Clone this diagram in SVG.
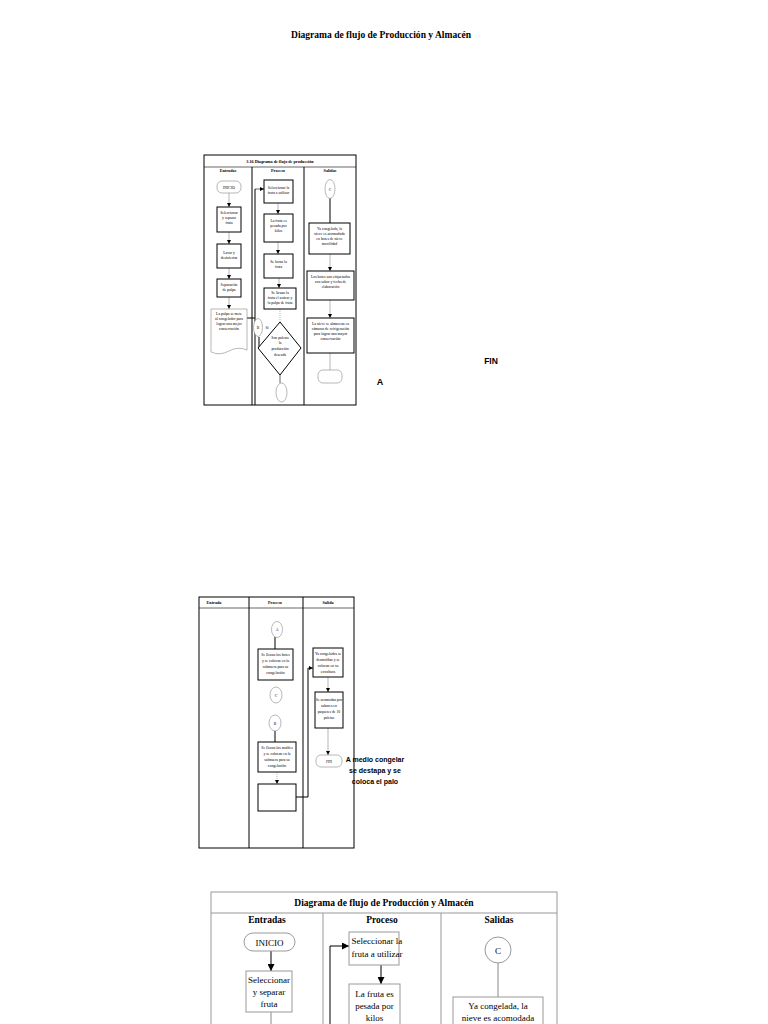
<svg xmlns="http://www.w3.org/2000/svg" width="768" height="1024" viewBox="0 0 768 1024">
<style>
text{font-family:"Liberation Serif","Times New Roman",serif;fill:#000}
.t1{font-size:3.8px;text-anchor:middle}
.h1{font-size:4.2px;font-weight:bold;text-anchor:middle}
.b1{fill:#fff;stroke:#000;stroke-width:1}
.g1{fill:#fff;stroke:#888;stroke-width:0.6}
.ln{fill:none;stroke:#000;stroke-width:0.6}
.lg{fill:none;stroke:#888;stroke-width:0.6}
.fr{fill:none;stroke:#000;stroke-width:1}
.t3{font-size:9px}
.h3{font-size:9.5px;font-weight:bold;text-anchor:middle}
.g3{fill:#fff;stroke:#999;stroke-width:1}
text.sans{font-family:"Liberation Sans",Arial,sans-serif;font-weight:bold}
</style>
<defs>
<marker id="ar" markerWidth="4" markerHeight="4" refX="4" refY="2" orient="auto" markerUnits="userSpaceOnUse"><path d="M0,0 L4,2 L0,4 Z" fill="#000"/></marker>
<marker id="ar3" markerWidth="7" markerHeight="7" refX="7" refY="3.5" orient="auto" markerUnits="userSpaceOnUse"><path d="M0,0 L7,3.5 L0,7 Z" fill="#000"/></marker>
</defs>
<rect width="768" height="1024" fill="#fff"/>
<text x="381" y="38" font-size="10.5" font-weight="bold" text-anchor="middle" textLength="180" lengthAdjust="spacingAndGlyphs">Diagrama de flujo de Producción y Almacén</text>

<!-- DIAGRAM 1 -->
<g id="frame1">
<rect x="204" y="155" width="152" height="250" class="fr"/>
<line x1="204" y1="167" x2="356" y2="167" class="ln"/>
<line x1="252" y1="167" x2="252" y2="405" class="fr"/>
<line x1="304" y1="167" x2="304" y2="405" class="fr"/>
<text x="280" y="163" class="h1">3.16 Diagrama de flujo de producción</text>
<text x="228" y="172" class="h1">Entradas</text>
<text x="278" y="172" class="h1">Proceso</text>
<text x="330" y="172" class="h1">Salidas</text>
</g>
<g id="connectors1">
<line x1="229" y1="193" x2="229" y2="207" class="lg" marker-end="url(#ar)"/>
<line x1="229" y1="232" x2="229" y2="244" class="lg" marker-end="url(#ar)"/>
<line x1="229" y1="268" x2="229" y2="279" class="lg" marker-end="url(#ar)"/>
<line x1="229" y1="297" x2="229" y2="309" class="lg" marker-end="url(#ar)"/>
<polyline points="247,318 255,318" class="fr"/>
<line x1="255" y1="405" x2="255" y2="189" class="fr"/>
<line x1="255" y1="189" x2="264" y2="189" class="ln" marker-end="url(#ar)"/>
<line x1="278" y1="203" x2="278" y2="214" class="lg" marker-end="url(#ar)"/>
<line x1="278" y1="242" x2="278" y2="254" class="lg" marker-end="url(#ar)"/>
<line x1="279" y1="278" x2="279" y2="288" class="lg" marker-end="url(#ar)"/>
<line x1="280" y1="309" x2="280" y2="322" class="lg" stroke-dasharray="1,1"/>
<line x1="259" y1="337" x2="259" y2="348" class="fr"/>
<line x1="280" y1="375" x2="280" y2="383" class="ln"/>
<line x1="330" y1="198" x2="330" y2="223" class="fr"/>
<line x1="330" y1="254" x2="330" y2="271" class="lg" marker-end="url(#ar)"/>
<line x1="330" y1="300" x2="330" y2="318" class="lg" marker-end="url(#ar)"/>
<line x1="330" y1="353" x2="330" y2="370" class="lg"/>
</g>
<g id="inicio1"><rect x="217" y="181" width="24" height="12" rx="5" class="g1"/><text x="229" y="188.5" class="t1">INICIO</text></g>
<g id="sel1"><rect x="217" y="207" width="24" height="25" class="b1"/><text x="229" y="214" class="t1">Seleccionar</text><text x="229" y="219" class="t1">y separar</text><text x="229" y="224" class="t1">fruta</text></g>
<g id="lavar1"><rect x="217" y="244" width="24" height="24" class="b1"/><text x="229" y="254" class="t1">Lavar y</text><text x="229" y="259" class="t1">desinfectar</text></g>
<g id="sep1"><rect x="217" y="279" width="24" height="18" class="b1"/><text x="229" y="286" class="t1">Separación</text><text x="229" y="291" class="t1">de pulpa</text></g>
<g id="doc1"><path d="M211,309 H247 V350 Q238,346 229,351 Q220,356 211,352 Z" class="g1"/><text x="229" y="315" class="t1">La pulpa se mete</text><text x="229" y="320" class="t1">al congelador para</text><text x="229" y="325" class="t1">lograr una mejor</text><text x="229" y="330" class="t1">conservación</text></g>
<g id="selfruta1"><rect x="264" y="180" width="29" height="23" class="b1"/><text x="278.5" y="189" class="t1">Seleccionar la</text><text x="278.5" y="194" class="t1">fruta a utilizar</text></g>
<g id="pesada1"><rect x="264" y="214" width="29" height="28" class="b1"/><text x="278.5" y="222" class="t1">La fruta es</text><text x="278.5" y="227" class="t1">pesada por</text><text x="278.5" y="232" class="t1">kilos</text></g>
<g id="lava1"><rect x="264" y="254" width="29" height="24" class="b1"/><text x="278.5" y="263" class="t1">Se lavan la</text><text x="278.5" y="268" class="t1">fruta</text></g>
<g id="licuan1"><rect x="264" y="288" width="32" height="21" class="b1"/><text x="280" y="294" class="t1">Se licuan la</text><text x="280" y="299" class="t1">fruta  el azúcar y</text><text x="280" y="304" class="t1">la pulpa de fruta</text></g>
<g id="b1"><ellipse cx="258" cy="327.5" rx="4.5" ry="9" class="g1"/><text x="258" y="329" class="t1">B</text></g>
<text x="267" y="329" class="t1">Si</text>
<g id="dec1"><polygon points="280,322 301,348 280,375 258,348" class="b1"/><text x="280" y="339" class="t1">Son paletas</text><text x="280" y="344" class="t1">la</text><text x="280" y="350" class="t1">producción</text><text x="280" y="356" class="t1">deseada</text></g>
<g id="end1"><ellipse cx="281.5" cy="392.5" rx="5.5" ry="9.5" class="g1"/></g>
<g id="c1"><ellipse cx="330" cy="189" rx="5" ry="9.5" class="g1"/><text x="330" y="190.5" class="t1">C</text></g>
<g id="ya1"><rect x="309" y="223" width="41" height="31" class="b1"/><text x="329.5" y="230" class="t1">Ya congelada, la</text><text x="329.5" y="235" class="t1">nieve es acomodada</text><text x="329.5" y="240" class="t1">en botes de nieve</text><text x="329.5" y="245" class="t1">movilidad</text></g>
<g id="etiq1"><rect x="307" y="271" width="47" height="29" class="b1"/><text x="330.5" y="278" class="t1">Los botes son etiquetados</text><text x="330.5" y="283" class="t1">con sabor y fecha de</text><text x="330.5" y="288" class="t1">elaboración</text></g>
<g id="alm1"><rect x="307" y="318" width="47" height="35" class="b1"/><text x="330.5" y="325" class="t1">La nieve se almacena en</text><text x="330.5" y="330" class="t1">cámaras de refrigeración</text><text x="330.5" y="335" class="t1">para lograr una mayor</text><text x="330.5" y="340" class="t1">conservación</text></g>
<g id="term1"><rect x="318" y="370" width="24" height="13" rx="5" class="g1"/></g>
<text x="491" y="364" class="sans" font-size="8.5" text-anchor="middle">FIN</text>
<text x="380" y="385" class="sans" font-size="9" text-anchor="middle">A</text>

<!-- DIAGRAM 2 -->
<g id="frame2">
<rect x="199" y="597" width="155" height="251" class="fr"/>
<line x1="199" y1="608" x2="354" y2="608" class="ln"/>
<line x1="249" y1="597" x2="249" y2="848" class="fr"/>
<line x1="303" y1="597" x2="303" y2="848" class="fr"/>
<text x="214" y="604" class="h1">Entrada</text>
<text x="275" y="604" class="h1">Proceso</text>
<text x="328" y="604" class="h1">Salida</text>
</g>
<g id="connectors2">
<line x1="275" y1="637" x2="275" y2="649" class="fr"/>
<line x1="275" y1="731" x2="275" y2="742" class="fr"/>
<line x1="277" y1="772" x2="277" y2="784" class="lg" stroke-dasharray="1,1" marker-end="url(#ar)"/>
<polyline points="296,797 308,797 308,668" class="fr"/>
<line x1="308" y1="668" x2="313" y2="668" class="ln" marker-end="url(#ar)"/>
<line x1="328" y1="677" x2="328" y2="692" class="lg" marker-end="url(#ar)"/>
<line x1="328" y1="728" x2="328" y2="755" class="lg" marker-end="url(#ar)"/>
</g>
<g id="a2"><ellipse cx="277" cy="629.5" rx="5.5" ry="8" class="g1"/><text x="277" y="631" class="t1">A</text></g>
<g id="llenan2"><rect x="258" y="649" width="35" height="31" class="b1"/><text x="275.5" y="656" class="t1">Se llenan los botes</text><text x="275.5" y="662" class="t1">y se colocan en la</text><text x="275.5" y="668" class="t1">salmuera para su</text><text x="275.5" y="674" class="t1">congelación</text></g>
<g id="c2"><ellipse cx="276" cy="695" rx="6" ry="8" class="g1"/><text x="276" y="696.5" class="t1">C</text></g>
<g id="b2"><ellipse cx="275" cy="723" rx="6" ry="8" class="g1"/><text x="275" y="724.5" class="t1">B</text></g>
<g id="moldes2"><rect x="258" y="742" width="38" height="30" class="b1"/><text x="277" y="749" class="t1">Se llenan los moldes</text><text x="277" y="755" class="t1">y se colocan en la</text><text x="277" y="761" class="t1">salmuera para su</text><text x="277" y="767" class="t1">congelación</text></g>
<g id="empty2"><rect x="258" y="784" width="38" height="27" class="b1"/></g>
<g id="desm2"><rect x="313" y="648" width="30" height="29" class="b1"/><text x="328" y="655" class="t1">Ya congelados se</text><text x="328" y="661" class="t1">desmoldan y se</text><text x="328" y="667" class="t1">colocan en su</text><text x="328" y="673" class="t1">envoltura</text></g>
<g id="acom2"><rect x="315" y="692" width="28" height="36" class="b1"/><text x="329" y="701" class="t1">Se acomodan por</text><text x="329" y="707" class="t1">sabores en</text><text x="329" y="713" class="t1">paquetes de 10</text><text x="329" y="719" class="t1">paletas</text></g>
<g id="fin2"><rect x="316" y="755" width="26" height="12" rx="5" class="g1"/><text x="329" y="762.5" class="t1">FIN</text></g>
<g id="note2">
<text x="375" y="762" class="sans" font-size="7" text-anchor="middle">A medio congelar</text>
<text x="375" y="773" class="sans" font-size="7" text-anchor="middle">se destapa y se</text>
<text x="375" y="784" class="sans" font-size="7" text-anchor="middle">coloca el palo</text>
</g>

<!-- DIAGRAM 3 -->
<g id="frame3">
<rect x="211" y="892" width="346" height="150" class="g3"/>
<line x1="211" y1="913" x2="557" y2="913" class="g3"/>
<line x1="323" y1="913" x2="323" y2="1030" class="g3"/>
<line x1="441" y1="913" x2="441" y2="1030" class="g3"/>
<text x="384" y="906" class="h3">Diagrama de flujo de Producción y Almacén</text>
<text x="267" y="923" class="h3">Entradas</text>
<text x="382" y="923" class="h3">Proceso</text>
<text x="499" y="923" class="h3">Salidas</text>
</g>
<g id="connectors3">
<line x1="271" y1="951" x2="271" y2="971" stroke="#000" stroke-width="1" marker-end="url(#ar3)"/>
<line x1="271" y1="1012" x2="271" y2="1030" stroke="#888" stroke-width="1"/>
<polyline points="330,1030 330,946" fill="none" stroke="#000" stroke-width="1"/>
<line x1="330" y1="946" x2="349" y2="946" stroke="#000" stroke-width="1" marker-end="url(#ar3)"/>
<line x1="381" y1="965" x2="381" y2="984" stroke="#000" stroke-width="1" marker-end="url(#ar3)"/>
<line x1="498" y1="963" x2="498" y2="997" stroke="#888" stroke-width="1"/>
</g>
<g id="inicio3"><rect x="244" y="933" width="51" height="18" rx="9" class="g3"/><text x="269.5" y="945.5" class="t3" text-anchor="middle">INICIO</text></g>
<g id="sel3"><rect x="246" y="971" width="46" height="41" class="g3"/><text x="269" y="983" class="t3" text-anchor="middle">Seleccionar</text><text x="269" y="995" class="t3" text-anchor="middle">y separar</text><text x="269" y="1007" class="t3" text-anchor="middle">fruta</text></g>
<g id="selfruta3"><rect x="349" y="932" width="50" height="33" class="g3"/><text x="351.5" y="944" class="t3">Seleccionar la</text><text x="351.5" y="957" class="t3">fruta a utilizar</text></g>
<g id="pesada3"><rect x="349" y="984" width="51" height="46" class="g3"/><text x="374.5" y="997" class="t3" text-anchor="middle">La fruta es</text><text x="374.5" y="1009" class="t3" text-anchor="middle">pesada por</text><text x="374.5" y="1021" class="t3" text-anchor="middle">kilos</text></g>
<g id="c3"><circle cx="498" cy="950" r="13" class="g3"/><text x="498" y="953.5" class="t3" text-anchor="middle">C</text></g>
<g id="ya3"><rect x="453" y="997" width="90" height="40" class="g3"/><text x="498" y="1009" class="t3" text-anchor="middle">Ya congelada, la</text><text x="498" y="1021" class="t3" text-anchor="middle">nieve es acomodada</text><text x="498" y="1033" class="t3" text-anchor="middle">en botes de nieve</text></g>
</svg>
